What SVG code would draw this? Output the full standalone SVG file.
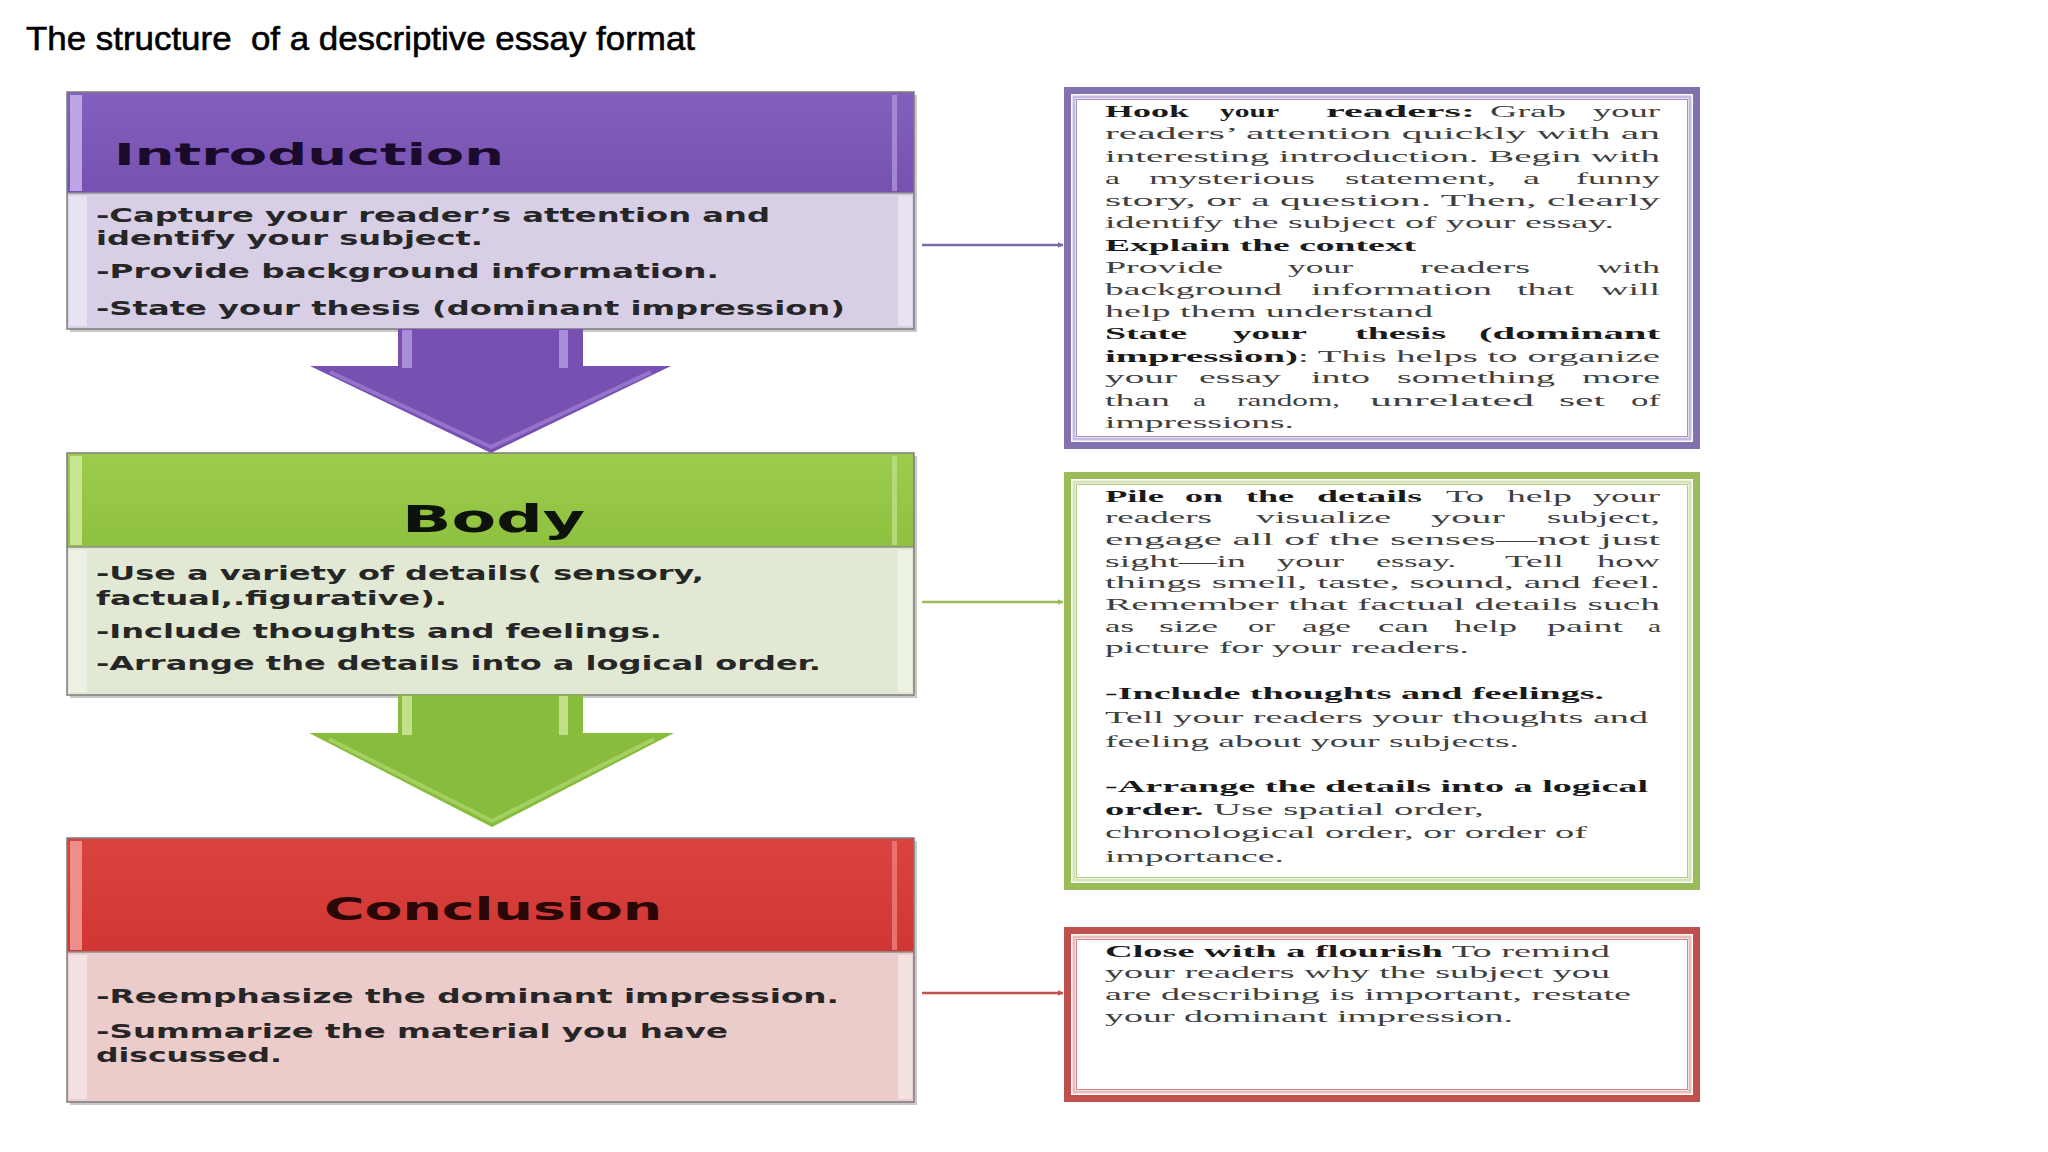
<svg xmlns="http://www.w3.org/2000/svg" width="2048" height="1152" viewBox="0 0 2048 1152">
<defs>
<style>
.title{font-family:"Liberation Sans",Arial,sans-serif;font-size:34px;fill:#000;stroke:#000;stroke-width:0.6;white-space:pre}
.hd{font-family:"DejaVu Sans",Verdana,sans-serif;font-weight:bold}
.lt{font-family:"DejaVu Sans",Verdana,sans-serif;font-weight:bold;font-size:20px;fill:#262626}
.rt{font-family:"Liberation Serif","Times New Roman",serif;font-size:17px;fill:#404040}
.rb{font-weight:bold;fill:#1a1a1a}
.outline{fill:none;stroke:#7c7c7c;stroke-width:1.5}
.shadow{fill:#9a9a9a;opacity:0.55}
</style>
<linearGradient id="gPur" x1="0" y1="0" x2="0" y2="1"><stop offset="0" stop-color="#8460BE"/><stop offset="1" stop-color="#7651B0"/></linearGradient>
<linearGradient id="gGrn" x1="0" y1="0" x2="0" y2="1"><stop offset="0" stop-color="#9DCC4C"/><stop offset="1" stop-color="#8EC13F"/></linearGradient>
<linearGradient id="gRed" x1="0" y1="0" x2="0" y2="1"><stop offset="0" stop-color="#DB4340"/><stop offset="1" stop-color="#CF3634"/></linearGradient>
<marker id="ahP" viewBox="0 0 10 10" refX="9" refY="5" markerWidth="6" markerHeight="6" orient="auto" markerUnits="userSpaceOnUse"><path d="M0,0 L10,5 L0,10 z" fill="#7E6AA8"/></marker>
<marker id="ahG" viewBox="0 0 10 10" refX="9" refY="5" markerWidth="6" markerHeight="6" orient="auto" markerUnits="userSpaceOnUse"><path d="M0,0 L10,5 L0,10 z" fill="#9BBB59"/></marker>
<marker id="ahR" viewBox="0 0 10 10" refX="9" refY="5" markerWidth="6" markerHeight="6" orient="auto" markerUnits="userSpaceOnUse"><path d="M0,0 L10,5 L0,10 z" fill="#C0504D"/></marker>
</defs>
<rect width="2048" height="1152" fill="#ffffff"/>

<g id="title">
<text class="title" x="26" y="50" textLength="669" lengthAdjust="spacingAndGlyphs">The structure  of a descriptive essay format</text>
</g>

<!-- Introduction -->
<g id="intro">
<rect class="shadow" x="70" y="95" width="847" height="237"/>
<rect x="67" y="92" width="847" height="101" fill="url(#gPur)"/>
<rect x="70" y="95" width="12" height="96" fill="#BBA5E5"/>
<rect x="892" y="95" width="5" height="96" fill="#A288D0"/>
<rect x="67" y="193" width="847" height="136" fill="#D8CFE6"/>
<rect x="69" y="196" width="18" height="130" fill="#E8E3F0"/>
<rect x="898" y="196" width="14" height="130" fill="#E8E3F0"/>
<line x1="67" y1="193" x2="914" y2="193" stroke="#8f8f8f" stroke-width="1.5"/>
<rect class="outline" x="67" y="92" width="847" height="237"/>
<text class="hd" x="114" y="165" font-size="31" fill="#1A0B2C" textLength="390" lengthAdjust="spacingAndGlyphs">Introduction</text>
<text class="lt" x="96" y="222" textLength="674" lengthAdjust="spacingAndGlyphs">-Capture your reader’s attention and</text>
<text class="lt" x="96" y="245" textLength="387" lengthAdjust="spacingAndGlyphs">identify your subject.</text>
<text class="lt" x="96" y="278" textLength="623" lengthAdjust="spacingAndGlyphs">-Provide background information.</text>
<text class="lt" x="96" y="315" textLength="749" lengthAdjust="spacingAndGlyphs">-State your thesis (dominant impression)</text>
</g>

<!-- Body -->
<g id="body">
<rect class="shadow" x="70" y="456" width="847" height="242"/>
<rect x="67" y="453" width="847" height="94" fill="url(#gGrn)"/>
<rect x="70" y="456" width="12" height="89" fill="#C9E592"/>
<rect x="892" y="456" width="5" height="89" fill="#B6DA79"/>
<rect x="67" y="547" width="847" height="148" fill="#E1E8D3"/>
<rect x="69" y="550" width="18" height="142" fill="#EDF1E4"/>
<rect x="898" y="550" width="14" height="142" fill="#EDF1E4"/>
<line x1="67" y1="547" x2="914" y2="547" stroke="#8f8f8f" stroke-width="1.5"/>
<rect class="outline" x="67" y="453" width="847" height="242"/>
<text class="hd" x="402" y="532" font-size="37" fill="#0d130a" textLength="183" lengthAdjust="spacingAndGlyphs">Body</text>
<text class="lt" x="96" y="580" textLength="608" lengthAdjust="spacingAndGlyphs">-Use a variety of details( sensory,</text>
<text class="lt" x="96" y="605" textLength="351" lengthAdjust="spacingAndGlyphs">factual,.figurative).</text>
<text class="lt" x="96" y="638" textLength="566" lengthAdjust="spacingAndGlyphs">-Include thoughts and feelings.</text>
<text class="lt" x="96" y="670" textLength="725" lengthAdjust="spacingAndGlyphs">-Arrange the details into a logical order.</text>
</g>

<!-- Conclusion -->
<g id="conclusion">
<rect class="shadow" x="70" y="841" width="847" height="264"/>
<rect x="67" y="838" width="847" height="114" fill="url(#gRed)"/>
<rect x="70" y="841" width="12" height="109" fill="#EE8E8B"/>
<rect x="892" y="841" width="5" height="109" fill="#E77370"/>
<rect x="67" y="952" width="847" height="150" fill="#ECCBCB"/>
<rect x="69" y="955" width="18" height="144" fill="#F4E1E1"/>
<rect x="898" y="955" width="14" height="144" fill="#F4E1E1"/>
<line x1="67" y1="952" x2="914" y2="952" stroke="#8f8f8f" stroke-width="1.5"/>
<rect class="outline" x="67" y="838" width="847" height="264"/>
<text class="hd" x="324" y="920" font-size="32" fill="#2a0606" textLength="338" lengthAdjust="spacingAndGlyphs">Conclusion</text>
<text class="lt" x="96" y="1003" textLength="743" lengthAdjust="spacingAndGlyphs">-Reemphasize the dominant impression.</text>
<text class="lt" x="96" y="1038" textLength="632" lengthAdjust="spacingAndGlyphs">-Summarize the material you have</text>
<text class="lt" x="96" y="1062" textLength="186" lengthAdjust="spacingAndGlyphs">discussed.</text>
</g>

<!-- Big down arrows -->
<g id="arrow-intro-body">
<polygon points="398,329 583,329 583,366 671,366 491,453 310,366 398,366" fill="#7750B2"/>
<rect x="402" y="330" width="10" height="38" fill="#A98DD8"/>
<rect x="559" y="330" width="9" height="38" fill="#A98DD8"/>
<polyline points="330,372 491,447 651,372" fill="none" stroke="#9474C8" stroke-width="4"/>
</g>
<g id="arrow-body-conclusion">
<polygon points="398,695 583,695 583,733 674,733 492,827 309,733 398,733" fill="#88BC3C"/>
<rect x="402" y="696" width="10" height="39" fill="#C2E08A"/>
<rect x="559" y="696" width="9" height="39" fill="#C2E08A"/>
<polyline points="329,739 492,821 654,739" fill="none" stroke="#A5CF62" stroke-width="4"/>
</g>

<!-- Connectors -->
<g id="connectors">
<line x1="922" y1="245" x2="1063" y2="245" stroke="#7E6AA8" stroke-width="2.5" marker-end="url(#ahP)"/>
<line x1="922" y1="602" x2="1063" y2="602" stroke="#9BBB59" stroke-width="2.5" marker-end="url(#ahG)"/>
<line x1="922" y1="993" x2="1063" y2="993" stroke="#C0504D" stroke-width="2.5" marker-end="url(#ahR)"/>
</g>

<!-- Note boxes -->
<g id="note-intro">
<rect x="1067.5" y="90.5" width="629" height="355" fill="#ffffff" stroke="#8370AE" stroke-width="7"/>
<rect x="1074" y="97" width="616" height="342" fill="none" stroke="#C7BCE0" stroke-width="3"/>
<rect x="1076.5" y="99.5" width="611" height="337" fill="none" stroke="#A394C6" stroke-width="1"/>
<g class="rt">
<text x="1105" y="117" class="rb" textLength="84" lengthAdjust="spacingAndGlyphs">Hook</text>
<text x="1220" y="117" class="rb" textLength="59" lengthAdjust="spacingAndGlyphs">your</text>
<text x="1326" y="117" class="rb" textLength="149" lengthAdjust="spacingAndGlyphs">readers:</text>
<text x="1490" y="117" textLength="76" lengthAdjust="spacingAndGlyphs">Grab</text>
<text x="1593" y="117" textLength="67" lengthAdjust="spacingAndGlyphs">your</text>
<text x="1105" y="139" textLength="555" lengthAdjust="spacingAndGlyphs">readers’ attention quickly with an</text>
<text x="1105" y="162" textLength="555" lengthAdjust="spacingAndGlyphs">interesting introduction. Begin with</text>
<text x="1105" y="184" textLength="15" lengthAdjust="spacingAndGlyphs">a</text>
<text x="1149" y="184" textLength="166" lengthAdjust="spacingAndGlyphs">mysterious</text>
<text x="1345" y="184" textLength="151" lengthAdjust="spacingAndGlyphs">statement,</text>
<text x="1523" y="184" textLength="17" lengthAdjust="spacingAndGlyphs">a</text>
<text x="1576" y="184" textLength="84" lengthAdjust="spacingAndGlyphs">funny</text>
<text x="1105" y="206" textLength="555" lengthAdjust="spacingAndGlyphs">story, or a question. Then, clearly</text>
<text x="1105" y="228" textLength="509" lengthAdjust="spacingAndGlyphs">identify the subject of your essay.</text>
<text x="1105" y="251" class="rb" textLength="311" lengthAdjust="spacingAndGlyphs">Explain the context</text>
<text x="1105" y="273" textLength="118" lengthAdjust="spacingAndGlyphs">Provide</text>
<text x="1288" y="273" textLength="65" lengthAdjust="spacingAndGlyphs">your</text>
<text x="1420" y="273" textLength="110" lengthAdjust="spacingAndGlyphs">readers</text>
<text x="1597" y="273" textLength="63" lengthAdjust="spacingAndGlyphs">with</text>
<text x="1105" y="295" textLength="177" lengthAdjust="spacingAndGlyphs">background</text>
<text x="1311" y="295" textLength="181" lengthAdjust="spacingAndGlyphs">information</text>
<text x="1517" y="295" textLength="57" lengthAdjust="spacingAndGlyphs">that</text>
<text x="1601" y="295" textLength="59" lengthAdjust="spacingAndGlyphs">will</text>
<text x="1105" y="317" textLength="328" lengthAdjust="spacingAndGlyphs">help them understand</text>
<text x="1105" y="339" class="rb" textLength="82" lengthAdjust="spacingAndGlyphs">State</text>
<text x="1233" y="339" class="rb" textLength="74" lengthAdjust="spacingAndGlyphs">your</text>
<text x="1355" y="339" class="rb" textLength="91" lengthAdjust="spacingAndGlyphs">thesis</text>
<text x="1479" y="339" class="rb" textLength="181" lengthAdjust="spacingAndGlyphs">(dominant</text>
<text x="1105" y="362" textLength="555" lengthAdjust="spacingAndGlyphs"><tspan class="rb">impression)</tspan>: This helps to organize</text>
<text x="1105" y="383" textLength="72" lengthAdjust="spacingAndGlyphs">your</text>
<text x="1199" y="383" textLength="82" lengthAdjust="spacingAndGlyphs">essay</text>
<text x="1311" y="383" textLength="59" lengthAdjust="spacingAndGlyphs">into</text>
<text x="1397" y="383" textLength="158" lengthAdjust="spacingAndGlyphs">something</text>
<text x="1582" y="383" textLength="78" lengthAdjust="spacingAndGlyphs">more</text>
<text x="1105" y="406" textLength="65" lengthAdjust="spacingAndGlyphs">than</text>
<text x="1193" y="406" textLength="13" lengthAdjust="spacingAndGlyphs">a</text>
<text x="1237" y="406" textLength="103" lengthAdjust="spacingAndGlyphs">random,</text>
<text x="1370" y="406" textLength="164" lengthAdjust="spacingAndGlyphs">unrelated</text>
<text x="1559" y="406" textLength="46" lengthAdjust="spacingAndGlyphs">set</text>
<text x="1631" y="406" textLength="29" lengthAdjust="spacingAndGlyphs">of</text>
<text x="1105" y="428" textLength="189" lengthAdjust="spacingAndGlyphs">impressions.</text>
</g>
</g>

<g id="note-body">
<rect x="1067.5" y="475.5" width="629" height="411" fill="#ffffff" stroke="#9BBB59" stroke-width="7"/>
<rect x="1074" y="482" width="616" height="398" fill="none" stroke="#D5E4B8" stroke-width="3"/>
<rect x="1076.5" y="484.5" width="611" height="393" fill="none" stroke="#B3CD84" stroke-width="1"/>
<g class="rt">
<text x="1105" y="502" class="rb" textLength="59" lengthAdjust="spacingAndGlyphs">Pile</text>
<text x="1185" y="502" class="rb" textLength="38" lengthAdjust="spacingAndGlyphs">on</text>
<text x="1246" y="502" class="rb" textLength="48" lengthAdjust="spacingAndGlyphs">the</text>
<text x="1317" y="502" class="rb" textLength="105" lengthAdjust="spacingAndGlyphs">details</text>
<text x="1446" y="502" textLength="38" lengthAdjust="spacingAndGlyphs">To</text>
<text x="1507" y="502" textLength="65" lengthAdjust="spacingAndGlyphs">help</text>
<text x="1593" y="502" textLength="67" lengthAdjust="spacingAndGlyphs">your</text>
<text x="1105" y="523" textLength="107" lengthAdjust="spacingAndGlyphs">readers</text>
<text x="1256" y="523" textLength="135" lengthAdjust="spacingAndGlyphs">visualize</text>
<text x="1431" y="523" textLength="74" lengthAdjust="spacingAndGlyphs">your</text>
<text x="1547" y="523" textLength="113" lengthAdjust="spacingAndGlyphs">subject,</text>
<text x="1105" y="545" textLength="555" lengthAdjust="spacingAndGlyphs">engage all of the senses—not just</text>
<text x="1105" y="567" textLength="141" lengthAdjust="spacingAndGlyphs">sight—in</text>
<text x="1277" y="567" textLength="67" lengthAdjust="spacingAndGlyphs">your</text>
<text x="1376" y="567" textLength="80" lengthAdjust="spacingAndGlyphs">essay.</text>
<text x="1505" y="567" textLength="59" lengthAdjust="spacingAndGlyphs">Tell</text>
<text x="1597" y="567" textLength="63" lengthAdjust="spacingAndGlyphs">how</text>
<text x="1105" y="588" textLength="555" lengthAdjust="spacingAndGlyphs">things smell, taste, sound, and feel.</text>
<text x="1105" y="610" textLength="555" lengthAdjust="spacingAndGlyphs">Remember that factual details such</text>
<text x="1105" y="632" textLength="29" lengthAdjust="spacingAndGlyphs">as</text>
<text x="1159" y="632" textLength="59" lengthAdjust="spacingAndGlyphs">size</text>
<text x="1248" y="632" textLength="27" lengthAdjust="spacingAndGlyphs">or</text>
<text x="1302" y="632" textLength="49" lengthAdjust="spacingAndGlyphs">age</text>
<text x="1378" y="632" textLength="51" lengthAdjust="spacingAndGlyphs">can</text>
<text x="1454" y="632" textLength="63" lengthAdjust="spacingAndGlyphs">help</text>
<text x="1547" y="632" textLength="76" lengthAdjust="spacingAndGlyphs">paint</text>
<text x="1648" y="632" textLength="13" lengthAdjust="spacingAndGlyphs">a</text>
<text x="1105" y="653" textLength="364" lengthAdjust="spacingAndGlyphs">picture for your readers.</text>
<text x="1105" y="699" class="rb" textLength="499" lengthAdjust="spacingAndGlyphs">-Include thoughts and feelings.</text>
<text x="1105" y="723" textLength="543" lengthAdjust="spacingAndGlyphs">Tell your readers your thoughts and</text>
<text x="1105" y="747" textLength="414" lengthAdjust="spacingAndGlyphs">feeling about your subjects.</text>
<text x="1105" y="792" class="rb" textLength="543" lengthAdjust="spacingAndGlyphs">-Arrange the details into a logical</text>
<text x="1105" y="815" textLength="379" lengthAdjust="spacingAndGlyphs"><tspan class="rb">order.</tspan> Use spatial order,</text>
<text x="1105" y="838" textLength="482" lengthAdjust="spacingAndGlyphs">chronological order, or order of</text>
<text x="1105" y="862" textLength="179" lengthAdjust="spacingAndGlyphs">importance.</text>
</g>
</g>

<g id="note-conclusion">
<rect x="1067.5" y="930.5" width="629" height="168" fill="#ffffff" stroke="#C0504D" stroke-width="7"/>
<rect x="1074" y="937" width="616" height="155" fill="none" stroke="#E8BDBC" stroke-width="3"/>
<rect x="1076.5" y="939.5" width="611" height="150" fill="none" stroke="#D58785" stroke-width="1"/>
<g class="rt">
<text x="1105" y="957" textLength="505" lengthAdjust="spacingAndGlyphs"><tspan class="rb">Close with a flourish</tspan> To remind</text>
<text x="1105" y="978" textLength="505" lengthAdjust="spacingAndGlyphs">your readers why the subject you</text>
<text x="1105" y="1000" textLength="526" lengthAdjust="spacingAndGlyphs">are describing is important, restate</text>
<text x="1105" y="1022" textLength="408" lengthAdjust="spacingAndGlyphs">your dominant impression.</text>
</g>
</g>
</svg>
